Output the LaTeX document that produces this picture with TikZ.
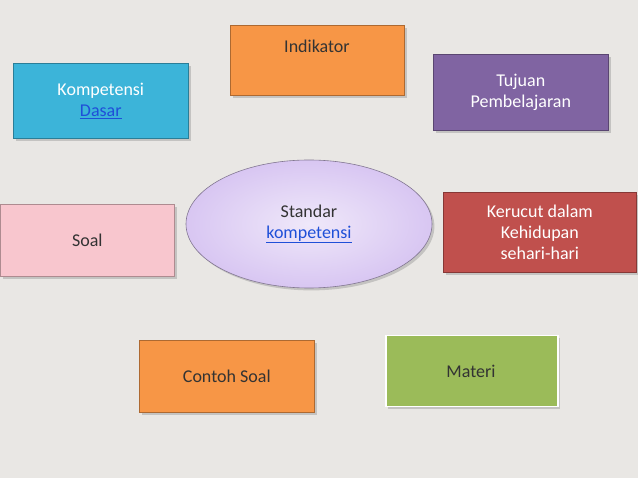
\documentclass[tikz,border=0pt]{standalone}
\usepackage{fontspec}
\setmainfont{Carlito}
\usetikzlibrary{shapes.geometric,shadows}
\definecolor{bg}{HTML}{E9E7E4}
\definecolor{lnk}{HTML}{1F4FD8}
\tikzset{
 box/.style={draw=#1!70!black, line width=0.6pt, fill=#1, anchor=north west, align=center, font=\fontsize{18}{21}\selectfont, drop shadow={opacity=0.35}},
}
\newcommand{\lk}[1]{\textcolor{lnk}{\underline{#1}}}
\begin{document}
\begin{tikzpicture}[x=1pt,y=-1pt]
\fill[bg] (0,0) rectangle (638,478);
\useasboundingbox (0,0) rectangle (638,478);
\definecolor{cy}{HTML}{3CB4D9}\definecolor{or}{HTML}{F79646}\definecolor{pu}{HTML}{8064A2}
\definecolor{pk}{HTML}{F8C6CE}\definecolor{rd}{HTML}{C0504D}\definecolor{gr}{HTML}{9BBB59}\definecolor{lv}{HTML}{D8C6F2}
\node[box=cy, minimum width=175pt, minimum height=75pt, text=white] (kd) at (13,63) {Kompetensi\\\lk{Dasar}};
\node[box=or, minimum width=174pt, minimum height=70pt, text=black!80, anchor=north west] (ind) at (230,25) {};
\node[font=\fontsize{18}{21}\selectfont, text=black!80] at (317,46) {Indikator};
\node[box=pu, minimum width=175pt, minimum height=76pt, text=white] (tp) at (433,54) {Tujuan\\Pembelajaran};
\node[box=pk, minimum width=174pt, minimum height=72pt, text=black!80] (soal) at (0,204) {Soal};
\node[box=rd, minimum width=193pt, minimum height=80pt, text=white] (kr) at (443,192) {Kerucut dalam\\Kehidupan\\sehari-hari};
\node[box=or, minimum width=175pt, minimum height=72pt, text=black!80] (cs) at (139,340) {Contoh Soal};
\node[box=gr, minimum width=172pt, minimum height=71pt, text=black!80, draw=white, line width=1.5pt] (mt) at (385,335) {};
\node[font=\fontsize{18}{21}\selectfont, text=black!80] at (471,371) {Materi};
\node[ellipse, draw=lv!60!black, line width=0.6pt, inner color=white!60!lv, outer color=lv, minimum width=246pt, minimum height=128pt, align=center, font=\fontsize{18}{21}\selectfont, text=black!80, drop shadow={opacity=0.35}] (sk) at (309,224) {Standar\\\lk{kompetensi}};
\end{tikzpicture}
\end{document}
